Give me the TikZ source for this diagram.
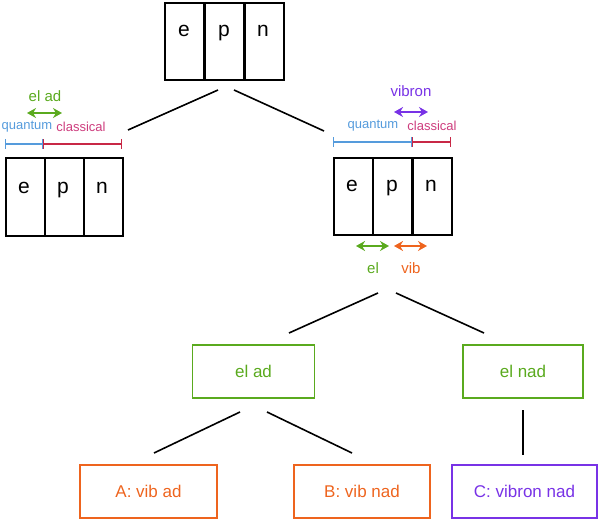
\documentclass[tikz,border=0pt]{standalone}
\usepackage{fontspec}
\setmainfont{Liberation Sans}
\usetikzlibrary{arrows.meta}
\definecolor{cg}{RGB}{90,170,30}
\definecolor{co}{RGB}{238,100,30}
\definecolor{cp}{RGB}{120,50,230}
\definecolor{cb}{RGB}{85,155,220}
\definecolor{cr}{RGB}{200,40,70}
\definecolor{ct}{RGB}{205,60,125}
\begin{document}
\begin{tikzpicture}[x=1pt,y=-1pt,
  ln/.style={line width=1.6pt},
  cell/.style={draw,line width=1.6pt,minimum width=39pt,minimum height=77pt,inner sep=0,anchor=north west},
  let/.style={font=\fontsize{21}{21}\selectfont,anchor=base,inner sep=0},
  cbox/.style={draw,line width=1.3pt,minimum width=122pt,minimum height=53pt,font=\fontsize{17}{17}\selectfont},
  lab/.style={font=\fontsize{13}{13}\selectfont},
  big/.style={font=\fontsize{15}{15}\selectfont},
  dar/.style={line width=1.3pt,{Stealth[length=9pt,width=10pt]}-{Stealth[length=9pt,width=10pt]}},
  bar/.style={line width=1.3pt,{Bar[width=10pt]}-{Bar[width=10pt]}}]
\useasboundingbox (0,0) rectangle (602,521);
% top box
\node[cell] (te) at (164,2) {}; \node[cell] (tp) at (204,2) {}; \node[cell] (tn) at (244,2) {};
\node[let] at (184,37) {e};\node[let] at (224,37) {p};\node[let] at (263,37) {n};
% left box
\node[cell,minimum height=78pt] (le) at (5,157) {}; \node[cell,minimum height=78pt] (lp) at (44,157) {}; \node[cell,minimum height=78pt] (lnn) at (83,157) {};
\node[let] at (24,194) {e};\node[let] at (63,194) {p};\node[let] at (102,194) {n};
% right box
\node[cell] (re) at (333,157) {}; \node[cell] (rp) at (372,157) {}; \node[cell] (rn) at (412,157) {};
\node[let] at (352,192) {e};\node[let] at (392,192) {p};\node[let] at (431,192) {n};
% tree lines
\coordinate (t1) at (218,90); \coordinate (t2) at (128,130);
\coordinate (t3) at (234,90); \coordinate (t4) at (324,131);
\draw[ln] (t1)--(t2); \draw[ln] (t3)--(t4);
% left annotations
\coordinate (lb1) at (5,144); \coordinate (lb2) at (43,144); \coordinate (lb3) at (122,144);
\draw[bar,cb] (lb1)--(lb2); \draw[bar,cr] (lb2)--(lb3);
\node[lab,cb] (lq) at (27,127) {quantum}; \node[lab,ct] (lc) at (81,127) {classical};
\node[big,cg] (lea) at (45,96) {el ad};
\coordinate (la1) at (27,113); \coordinate (la2) at (62,113);
\draw[dar,cg] (la1)--(la2);
% right annotations
\coordinate (rb1) at (333,142); \coordinate (rb2) at (412,142); \coordinate (rb3) at (451,142);
\draw[bar,cb] (rb1)--(rb2); \draw[bar,cr] (rb2)--(rb3);
\node[lab,cb] (rq) at (373,126) {quantum}; \node[lab,ct] (rc) at (432,126) {classical};
\node[big,cp] (rv) at (411,91) {vibron};
\coordinate (ra1) at (394,112); \coordinate (ra2) at (428,112);
\draw[dar,cp] (ra1)--(ra2);
\coordinate (e1) at (356,246); \coordinate (e2) at (389,246);
\coordinate (v1) at (394,246); \coordinate (v2) at (427,246);
\draw[dar,cg] (e1)--(e2); \draw[dar,co] (v1)--(v2);
\node[big,cg] (el) at (373,268) {el};
\node[big,co] (vb) at (411,268) {vib};
% lower tree
\coordinate (m1) at (378,293); \coordinate (m2) at (289,333);
\coordinate (m3) at (396,293); \coordinate (m4) at (484,333);
\draw[ln] (m1)--(m2); \draw[ln] (m3)--(m4);
\node[cbox,cg,text=cg] (ead) at (253.5,371.5) {el ad};
\node[cbox,cg,text=cg,minimum width=120pt] (enad) at (523,371.5) {el nad};
\coordinate (n1) at (240,412); \coordinate (n2) at (154,453);
\coordinate (n3) at (267,412); \coordinate (n4) at (352,453);
\coordinate (n5) at (523,410); \coordinate (n6) at (523,455);
\draw[ln] (n1)--(n2); \draw[ln] (n3)--(n4); \draw[ln] (n5)--(n6);
\node[cbox,co,text=co,minimum width=137pt] (A) at (148.5,491.5) {A: vib ad};
\node[cbox,co,text=co,minimum width=136pt] (B) at (362,491.5) {B: vib nad};
\node[cbox,cp,text=cp,minimum width=145pt] (C) at (524.5,491.5) {C: vibron nad};
\end{tikzpicture}
\end{document}
